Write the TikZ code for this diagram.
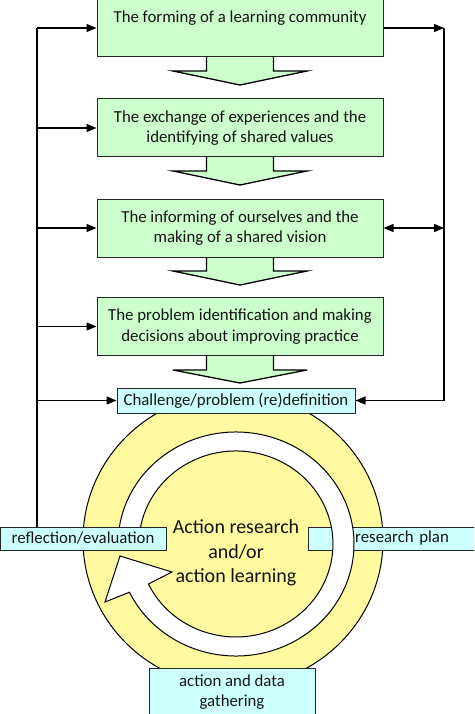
\documentclass[tikz,border=0pt]{standalone}
\usepackage{fontspec}
\setmainfont{Carlito}
\usetikzlibrary{arrows.meta}
\definecolor{boxgreen}{RGB}{204,255,204}
\definecolor{boxcyan}{RGB}{204,255,255}
\definecolor{ringyellow}{RGB}{255,249,160}
\definecolor{txt}{RGB}{20,20,20}
\begin{document}
\begin{tikzpicture}[x=1pt,y=-1pt,
  stagebox/.style={draw=black!85, fill=boxgreen, line width=1pt, minimum width=286pt, minimum height=58pt, align=center, text=txt, font=\fontsize{16.8}{20.5}\selectfont, inner sep=0pt},
  stagetext/.style={text=txt, font=\fontsize{16.8}{20.5}\selectfont, inner sep=0pt},
  labelbox/.style={draw=black!85, fill=boxcyan, line width=1pt, align=center, text=txt, font=\fontsize{16.8}{20.5}\selectfont, inner sep=0pt},
  blockarrow/.style={draw=black, fill=boxgreen, line width=1.3pt, line join=miter},
  conn/.style={line width=1.2pt, draw=black, -{Triangle[length=10pt,width=8pt]}},
  dconn/.style={line width=1.2pt, draw=black, {Triangle[length=10pt,width=8pt]}-{Triangle[length=10pt,width=8pt]}},
  plain/.style={line width=1.2pt, draw=black}]
\useasboundingbox (0,0) rectangle (474,714);
\clip (0,0) rectangle (474,714);
\fill[white] (0,0) rectangle (474,714);

% block arrows between stages
\path[blockarrow] (206.5,54) -- (206.5,71) -- (173,71) -- (240,85) -- (307,71) -- (273.5,71) -- (273.5,54);
\path[blockarrow] (206.5,154) -- (206.5,171) -- (173,171) -- (240,185) -- (307,171) -- (273.5,171) -- (273.5,154);
\path[blockarrow] (206.5,254) -- (206.5,271) -- (173,271) -- (240,285) -- (307,271) -- (273.5,271) -- (273.5,254);
\path[blockarrow] (206.5,352) -- (206.5,370) -- (173,370) -- (240,383) -- (307,370) -- (273.5,370) -- (273.5,352);

% stage boxes
\node[stagebox] (s1) at (240,28) {};
\node[stagetext] (s1t) at (240,18) {The forming of a learning community};
\node[stagebox] (s2) at (240,128) {The exchange of experiences and the\\identifying of shared values};
\node[stagebox] (s3) at (240,228) {The informing of ourselves and the\\making of a shared vision};
\node[stagebox] (s4) at (240,326.5) {The problem identification and making\\decisions about improving practice};

% cycle
\filldraw[draw=black, line width=1pt, fill=ringyellow] (233,540) ellipse [x radius=150pt, y radius=147pt];

\node[labelbox, minimum width=188pt, minimum height=23pt, text width=188pt] (rp) at (402,538.5) {research plan};

\filldraw[draw=black, line width=1pt, fill=white, line join=miter]
  (236,544) ++(172:118pt and 112pt)
  arc[start angle=172, end angle=-154.5, x radius=118pt, y radius=112pt]
  -- (105,602) -- (120,556) -- (172,572)
  -- (148.4,584)
  arc[start angle=-154.5, end angle=172, x radius=97pt, y radius=93pt]
  -- cycle;

\node[labelbox, minimum width=166pt, minimum height=23pt] (re) at (83,538.5) {reflection/evaluation};
\node[labelbox, minimum width=238pt, minimum height=25pt] (ch) at (236,400.5) {Challenge/problem (re)definition};
\node[labelbox, minimum width=166pt, minimum height=48pt] (ad) at (232,692) {action and data\\gathering};

\node[align=center, text=txt, font=\fontsize{20}{24.5}\selectfont, inner sep=0pt] (ar) at (236,553) {Action research\\and/or\\action learning};

% feedback lines
\coordinate (lt) at (37,28);
\coordinate (l2) at (37,128);
\coordinate (l3) at (37,228);
\coordinate (l4) at (37,326.5);
\coordinate (l5) at (37,400.5);
\coordinate (rt) at (444,28);
\coordinate (r3) at (444,228);
\coordinate (r5) at (444,400.5);

\draw[plain] (re.north -| lt) -- (lt);
\draw[conn] (lt) -- (s1.west);
\draw[conn] (l2) -- (s2.west);
\draw[conn] (l3) -- (s3.west);
\draw[conn] (l4) -- (s4.west);
\draw[conn] (l5) -- (ch.west);

\draw[conn] (s1.east) -- (rt);
\draw[plain] (rt) -- (r5);
\draw[dconn] (s3.east) -- (r3);
\draw[conn] (r5) -- (ch.east);
\end{tikzpicture}
\end{document}
